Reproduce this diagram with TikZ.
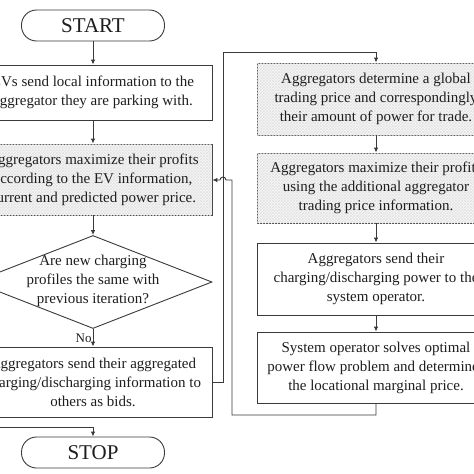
\documentclass[tikz,border=0pt]{standalone}
\usepackage{fontspec}
\setmainfont{Liberation Serif}
\usetikzlibrary{arrows.meta,shapes.geometric,patterns}
\definecolor{ln}{HTML}{3A3A3A}
\definecolor{tx}{HTML}{1E1E1E}
\tikzset{
  box/.style={draw=ln, line width=0.9pt, minimum width=238pt, align=center, text=tx, font=\fontsize{15}{19}\selectfont, inner sep=2pt},
  hatch/.style={box, fill=gray!6, postaction={pattern=crosshatch, pattern color=gray!22}},
  term/.style={draw=ln, line width=0.9pt, rounded corners=15pt, minimum width=143pt, minimum height=31pt, text=tx, font=\fontsize{21}{24}\selectfont},
  arr/.style={draw=ln, line width=0.9pt, -{Latex[length=5pt,width=4.5pt]}},
  ln/.style={draw=ln, line width=0.9pt},
}
\begin{document}
\begin{tikzpicture}[x=1pt,y=1pt]
\useasboundingbox (0,0) rectangle (474,-474);
\clip (0,0) rectangle (474,-474);
\fill[white] (0,0) rectangle (474,-474);
% left column
\node[term] (start) at (93,-25.5) {START};
\node[box, minimum height=55pt] (b1) at (93,-92.5) {EVs send local information to the\\aggregator they are parking with.};
\node[hatch, minimum height=71pt] (b2) at (93,-179.5) {Aggregators maximize their profits\\according to the EV information,\\current and predicted power price.};
\node[draw=ln, line width=0.9pt, shape=diamond, minimum width=238pt, minimum height=93pt, inner sep=0pt] (dia) at (93,-282) {};
\node[text=tx, align=center, font=\fontsize{15}{19}\selectfont] (diat) at (93,-281) {Are new charging\\profiles the same with\\previous iteration?};
\node[box, minimum height=70pt] (b3) at (93,-382) {Aggregators send their aggregated\\charging/discharging information to\\others as bids.};
\node[term] (stop) at (93,-452.5) {STOP};
% right column
\node[hatch, minimum height=72pt] (r1) at (376,-99) {Aggregators determine a global\\trading price and correspondingly\\their amount of power for trade.};
\node[hatch, minimum height=70pt] (r2) at (376,-188) {Aggregators maximize their profits\\using the additional aggregator\\trading price information.};
\node[box, minimum height=72pt] (r3) at (376,-279) {Aggregators send their\\charging/discharging power to the\\system operator.};
\node[box, minimum height=71pt] (r4) at (376,-367.5) {System operator solves optimal\\power flow problem and determines\\the locational marginal price.};
% coordinates
\coordinate (c1) at (223,-382);
\coordinate (c2) at (223,-52);
\coordinate (c3) at (376,-52);
\coordinate (d1) at (376,-415);
\coordinate (d2) at (232,-415);
\coordinate (d3) at (232,-180);
\coordinate (y1) at (-40,-282);
\coordinate (y2) at (-40,-427);
\coordinate (y3) at (93,-427);
% connectors
\draw[arr] (start) -- (b1);
\draw[arr] (b1) -- (b2);
\draw[arr] (b2) -- (dia.north);
\draw[arr] (dia.south) -- node[left, text=tx, font=\fontsize{13}{15}\selectfont, inner sep=1pt, pos=0.55] {No} (b3);
\draw[ln] (b3.east) -- (c1) -- (c2) -- (c3);
\draw[arr] (c3) -- (r1.north);
\draw[arr] (r1) -- (r2);
\draw[arr] (r2) -- (r3);
\draw[arr] (r3) -- (r4);
\draw[arr] (r4.south) -- (d1) -- (d2) -- (d3) -- (226,-180) arc[start angle=0, end angle=180, radius=3] -- (b2.east |- d3);
\draw[ln] (dia.west) -- (y1) -- (y2) -- (y3);
\draw[arr] (y3) -- (stop.north);
\end{tikzpicture}
\end{document}
